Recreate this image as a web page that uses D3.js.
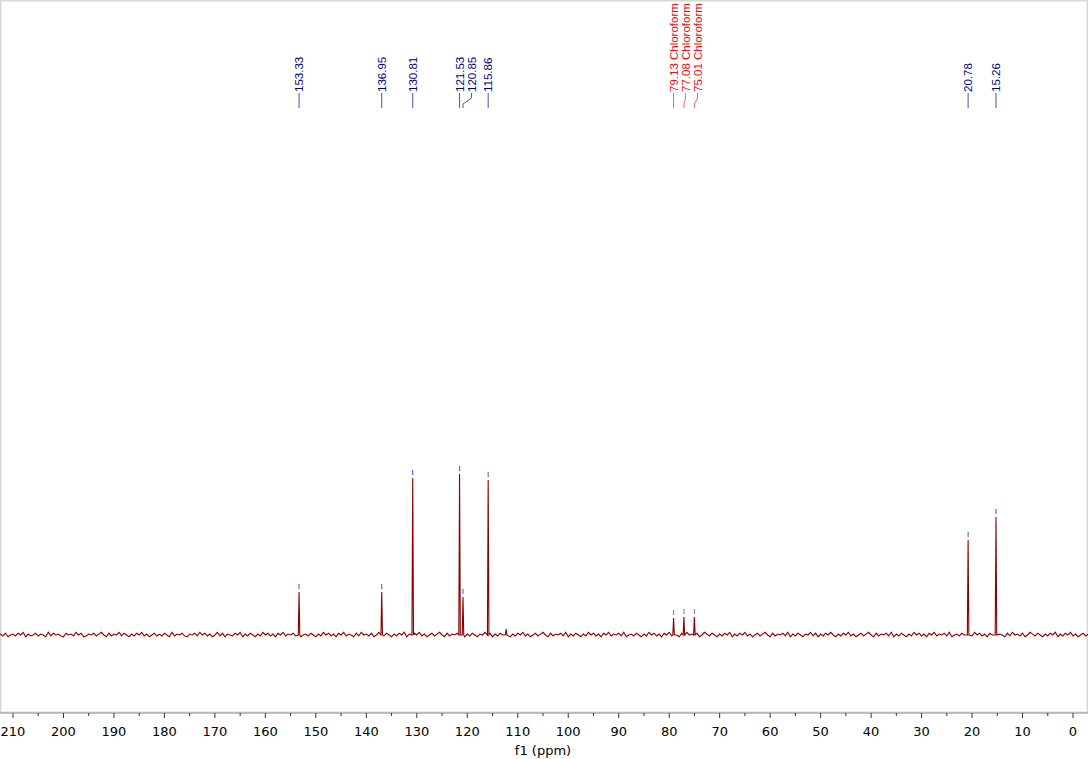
<!DOCTYPE html>
<html><head><meta charset="utf-8">
<script src="https://cdn.jsdelivr.net/npm/d3@7"></script>
<style>body{margin:0;background:#fff}svg{display:block;font-family:"DejaVu Sans",sans-serif}</style>
</head><body>
<script>
// peak list: shift (ppm), height (arbitrary intensity), label
const peakShifts = [153.33, 136.95, 130.81, 121.53, 120.85, 115.86, 112.3, 79.13, 77.08, 75.01, 20.78, 15.26];
const peakHeights = [43, 43, 157, 161, 38, 155, 6, 17, 18, 18, 95, 118];
const peakLabels = ["153.33", "136.95", "130.81", "121.53", "120.85", "115.86", null,
  "79.13 Chloroform", "77.08 Chloroform", "75.01 Chloroform", "20.78", "15.26"];
const solventFlags = [0, 0, 0, 0, 0, 0, 0, 1, 1, 1, 0, 0];
// baseline noise, one digit every 0.5 ppm from 213 down (digit - 3)
const noiseDigits =
  "3425134253614235243162534215342635124352463152436253142536241352" +
  "4253162435214352635241362514325361425314263524153624352613425314" +
  "2635241536243152634251364253142536142536241352463152435261425314" +
  "3625142536314253624135246315243526142531426352415362435261342531" +
  "4263524153624315263425136425314253614253624135246315243526142531" +
  "4362514253631425362413524631524352614253142635241536243526134253" +
  "1426352415362431526342513642531425361425362413524631524352614253" +
  "14";
const noise = noiseDigits.split("").map(c => (+c - 3) * 0.9);
const xTicks = d3.range(0, 211, 10);

const W = 1088, H = 759;
const svg = d3.select("body").append("svg").attr("width", W).attr("height", H);
const x = d3.scaleLinear().domain([210, 0]).range([13, 1073]);
const y = d3.scaleLinear().domain([0, 200]).range([635, 435]);

// plot frame
svg.append("rect").attr("x", 0.5).attr("y", 0.5).attr("width", W - 1).attr("height", 712)
  .attr("fill", "none").attr("stroke", "#d8d8d8").attr("stroke-width", 2);

// build spectrum points
let pts = noise.map((v, i) => [213 - i * 0.5, v]).filter(d => d[0] >= -3);
peakShifts.forEach((p, i) => {
  pts = pts.filter(d => Math.abs(d[0] - p) > 0.3);
  pts.push([p + 0.15, 0], [p, peakHeights[i]], [p - 0.15, 0]);
});
pts.sort((a, b) => b[0] - a[0]);
svg.append("path").datum(pts)
  .attr("d", d3.line().x(d => x(d[0])).y(d => y(d[1])))
  .attr("fill", "none").attr("stroke", "#8b0000").attr("stroke-width", 1.1);

// small marks above peaks
peakShifts.forEach((p, i) => {
  if (!peakLabels[i]) return;
  svg.append("line").attr("x1", x(p)).attr("x2", x(p))
    .attr("y1", y(peakHeights[i]) - 8).attr("y2", y(peakHeights[i]) - 3)
    .attr("stroke", solventFlags[i] ? "#c06060" : "#5050c0").attr("stroke-width", 1);
});

// labels, spread so they do not overlap
const lab = peakShifts.map((p, i) => ({p, i, px: x(p)})).filter(d => peakLabels[d.i]);
lab.forEach((d, k) => { d.lx = k > 0 ? Math.max(d.px, lab[k - 1].lx + 12) : d.px; });
lab.forEach(d => {
  const col = solventFlags[d.i] ? "#ff0000" : "#000080";
  svg.append("path")
    .attr("d", `M${d.lx},93 L${d.lx},98 L${d.px},104 L${d.px},108`)
    .attr("fill", "none").attr("stroke", solventFlags[d.i] ? "#ff6060" : "#5050a0");
  svg.append("text").attr("transform", `translate(${d.lx + 4},92) rotate(-90)`)
    .attr("font-family", "Liberation Sans, Arial, sans-serif")
    .attr("font-size", 11.5).attr("fill", col).text(peakLabels[d.i]);
});

// x axis
const ax = svg.append("g").attr("transform", "translate(0,713)");
ax.append("line").attr("x1", 0).attr("x2", W).attr("stroke", "#999");
ax.selectAll(".mj").data(xTicks).join("line")
  .attr("x1", d => x(d)).attr("x2", d => x(d)).attr("y1", 0).attr("y2", 5).attr("stroke", "#333");
ax.selectAll(".mn").data(xTicks.map(d => d + 5).filter(d => d < 215)).join("line")
  .attr("x1", d => x(d)).attr("x2", d => x(d)).attr("y1", 0).attr("y2", 3).attr("stroke", "#333");
ax.selectAll("text").data(xTicks).join("text")
  .attr("x", d => x(d)).attr("y", 23).attr("text-anchor", "middle")
  .attr("font-size", 13).attr("fill", "#000").text(d => d);
svg.append("text").attr("x", 543).attr("y", 755).attr("text-anchor", "middle")
  .attr("font-size", 13).text("f1 (ppm)");
</script>
</body></html>
